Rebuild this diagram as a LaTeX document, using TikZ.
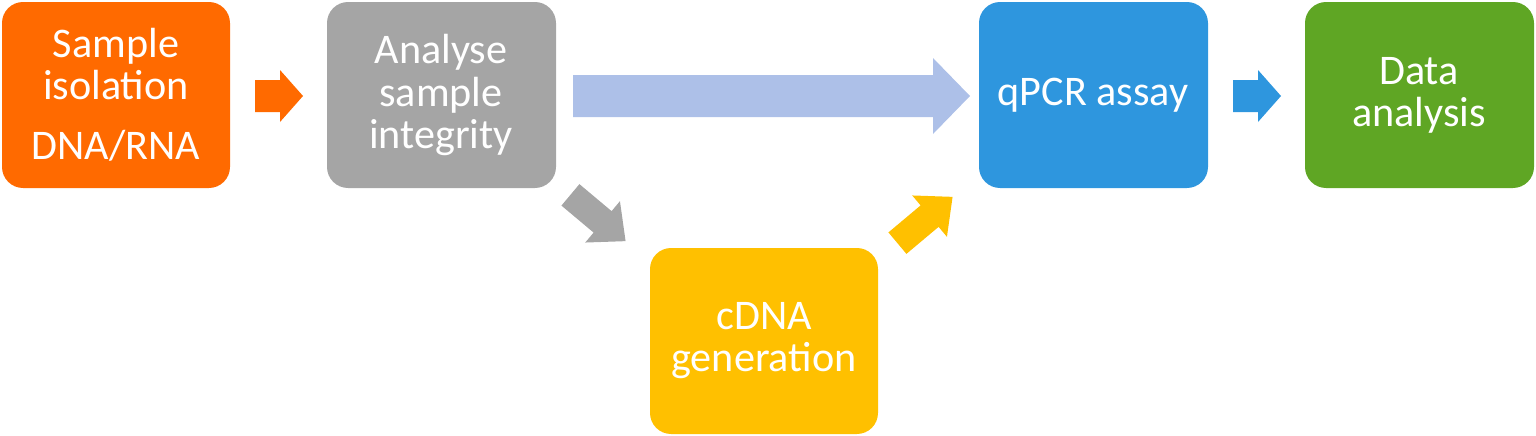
\documentclass[tikz,border=0pt]{standalone}
\usepackage{fontspec}
\setmainfont{Carlito}
\definecolor{cOr}{HTML}{FF6A00}
\definecolor{cGr}{HTML}{A5A5A5}
\definecolor{cBl}{HTML}{2E96DE}
\definecolor{cGn}{HTML}{5FA624}
\definecolor{cYe}{HTML}{FFC000}
\definecolor{cLb}{HTML}{ADC0E8}
\begin{document}
\begin{tikzpicture}[x=0.02cm,y=-0.02cm,
 box/.style={rounded corners=12,inner sep=0},
 lbl/.style={text=white,align=center,font=\fontsize{24pt}{24pt}\selectfont}]
\useasboundingbox (0,0) rectangle (1536,436);
\fill[cOr,box] (2,2) rectangle (230,188); \node[lbl] (a) at (116,95) {Sample\\isolation\\[10pt]DNA/RNA};
\fill[cGr,box] (327,2) rectangle (556,188); \node[lbl] (b) at (441,95) {Analyse\\sample\\integrity};
\fill[cBl,box] (979,2) rectangle (1208,188); \node[lbl] (c) at (1093,95) {qPCR assay};
\fill[cGn,box] (1305,2) rectangle (1534,188); \node[lbl] (d) at (1419,95) {Data\\analysis};
\fill[cYe,box] (650,248) rectangle (878,434); \node[lbl] (e) at (764,341) {cDNA\\generation};
% straight arrows
\fill[cOr] (255,80) -- (280,80) -- (280,70) -- (303,96) -- (280,122) -- (280,112) -- (255,112) -- cycle;
\fill[cBl] (1233,80) -- (1258,80) -- (1258,70) -- (1281,96) -- (1258,122) -- (1258,112) -- (1233,112) -- cycle;
\fill[cLb] (573,75) -- (933,75) -- (933,58) -- (970,96) -- (933,134) -- (933,117) -- (573,117) -- cycle;
% diagonal arrows
\begin{scope}[shift={(598,218)},rotate=-40]
\fill[cGr] (-36,-14) -- (6,-14) -- (6,-27) -- (36,0) -- (6,27) -- (6,14) -- (-36,14) -- cycle;
\end{scope}
\begin{scope}[shift={(925,220)},rotate=40]
\fill[cYe] (-36,-14) -- (6,-14) -- (6,-27) -- (36,0) -- (6,27) -- (6,14) -- (-36,14) -- cycle;
\end{scope}
\end{tikzpicture}
\end{document}
